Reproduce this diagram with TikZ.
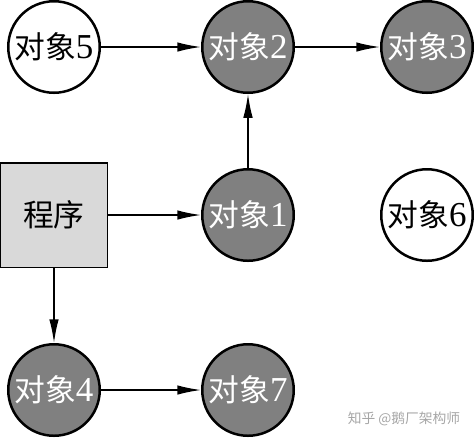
\documentclass[tikz,border=0pt]{standalone}
\usepackage{fontspec}
\setmainfont{Liberation Serif}
\newfontfamily\cjk{Noto Sans CJK SC}
\usetikzlibrary{positioning}
\usetikzlibrary{arrows.meta}

\newcommand{\obj}[1]{{\cjk 对象}{\fontsize{14}{14}\selectfont#1}}

\begin{document}
\begin{tikzpicture}
  \tikzset{
obj/.style={circle, draw, line width=1pt,
  inner sep=0pt,
    minimum size=36.6pt,
    font=\fontsize{12.3}{14}\selectfont},
live/.style={obj, fill=black!50, text=white},
dead/.style={obj, fill=white},
prog/.style={draw, line width=0.6pt, fill=black!15,
    minimum width=42.6pt, minimum height=41.8pt,
    font=\fontsize{12.3}{14}\selectfont\cjk},
ref/.style={line width=0.6pt, -{Latex[length=9.5pt,width=3.8pt]}},
}
  \useasboundingbox (-21.6pt,-89.2pt) rectangle (168pt,86pt);

  % Nodes
  \node [prog] (prog) at (0,0) {程序};
  \node [live, right=37.2pt of prog] (obj1) {\obj{1}};
  \node [dead, right=34pt of obj1] (obj6) {\obj{6}};
  \node [live] (obj2) at (77.6pt,67.2pt) {\obj{2}};
  \node [dead, left=40pt of obj2] (obj5) {\obj{5}};
  \node [live, right=34pt of obj2] (obj3) {\obj{3}};
  \node [live, below=30pt of prog] (obj4) {\obj{4}};
  \node [live, right=40pt of obj4] (obj7) {\obj{7}};

  % References
  \draw [ref] (obj5.east) -- (obj2.west);
  \draw [ref] (obj2.east) -- (obj3.west);
  \draw [ref] (obj1.north) -- (obj2.south);
  \draw [ref] (prog.east) -- (obj1.west);
  \draw [ref] (prog.south) -- (obj4.north);
  \draw [ref] (obj4.east) -- (obj7.west);

  % watermark
  \node [text=black!35, font=\fontsize{5.5}{6}\selectfont\cjk] (mark) at (140pt,-81.6pt) {知乎 @鹅厂架构师};
\end{tikzpicture}
\end{document}
